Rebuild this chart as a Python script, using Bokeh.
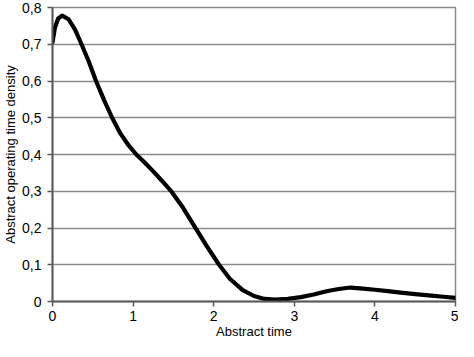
from bokeh.plotting import figure
from bokeh.models import Range1d, FixedTicker, CustomJSTickFormatter
from bokeh.embed import file_html
from bokeh.resources import INLINE

# Data (abstract time vs. density)
time_vals = [0.0, 0.03, 0.07, 0.12, 0.2, 0.28, 0.36, 0.45, 0.54, 0.64, 0.74, 0.84, 0.94,
             1.04, 1.15, 1.25, 1.36, 1.48, 1.62, 1.76, 1.91, 2.06, 2.2, 2.36, 2.5,
             2.63, 2.76, 2.92, 3.08, 3.24, 3.40, 3.55, 3.70, 3.85, 4.0, 4.16, 4.32,
             4.5, 4.7, 4.85, 5.0]
density_vals = [0.705, 0.745, 0.77, 0.778, 0.768, 0.74, 0.70, 0.653, 0.60, 0.548, 0.50, 0.458, 0.426,
                0.40, 0.377, 0.354, 0.328, 0.298, 0.255, 0.205, 0.152, 0.102, 0.062, 0.031, 0.015,
                0.007, 0.005, 0.007, 0.012, 0.019, 0.028, 0.034, 0.038, 0.035, 0.032, 0.028, 0.024,
                0.02, 0.016, 0.013, 0.010]
x_ticks = [0, 1, 2, 3, 4, 5]
y_ticks = [0.0, 0.1, 0.2, 0.3, 0.4, 0.5, 0.6, 0.7, 0.8]

p = figure(width=458, height=341, output_backend="svg", toolbar_location=None,
           x_range=Range1d(0, 5), y_range=Range1d(0, 0.8),
           min_border_left=0, min_border_right=3, min_border_top=7, min_border_bottom=0)

p.line(time_vals, density_vals, line_width=4.2, line_color="black", line_join="round", line_cap="round")

font = "Liberation Sans"
axis_col = "#5a5a5a"
grid_col = "#8a8a8a"

p.outline_line_color = grid_col
p.outline_line_width = 1.5
p.background_fill_color = "white"
p.border_fill_color = "white"

p.xgrid.grid_line_color = None
p.ygrid.grid_line_color = grid_col
p.ygrid.grid_line_width = 1.5
p.ygrid.ticker = FixedTicker(ticks=y_ticks)

p.xaxis.ticker = FixedTicker(ticks=x_ticks)
p.yaxis.ticker = FixedTicker(ticks=y_ticks)
p.yaxis.formatter = CustomJSTickFormatter(code="return tick == 0 ? '0' : tick.toFixed(1).replace('.', ',');")

for ax in (p.xaxis[0], p.yaxis[0]):
    ax.axis_line_color = axis_col
    ax.axis_line_width = 2
    ax.major_tick_line_color = axis_col
    ax.major_tick_line_width = 1.5
    ax.major_tick_in = 0
    ax.major_tick_out = 5
    ax.minor_tick_line_color = None
    ax.major_label_text_font = font
    ax.major_label_text_font_size = "14px"
    ax.major_label_text_color = "black"
    ax.axis_label_text_font = font
    ax.axis_label_text_font_size = "13px"
    ax.axis_label_text_font_style = "normal"
    ax.axis_label_text_color = "black"

p.xaxis.axis_label = "Abstract time"
p.yaxis.axis_label = "Abstract operating time density"
p.xaxis.major_label_standoff = 4
p.yaxis.major_label_standoff = 6
p.xaxis.axis_label_standoff = 0
p.yaxis.axis_label_standoff = 1

open("out.html", "w").write(file_html(p, INLINE))
